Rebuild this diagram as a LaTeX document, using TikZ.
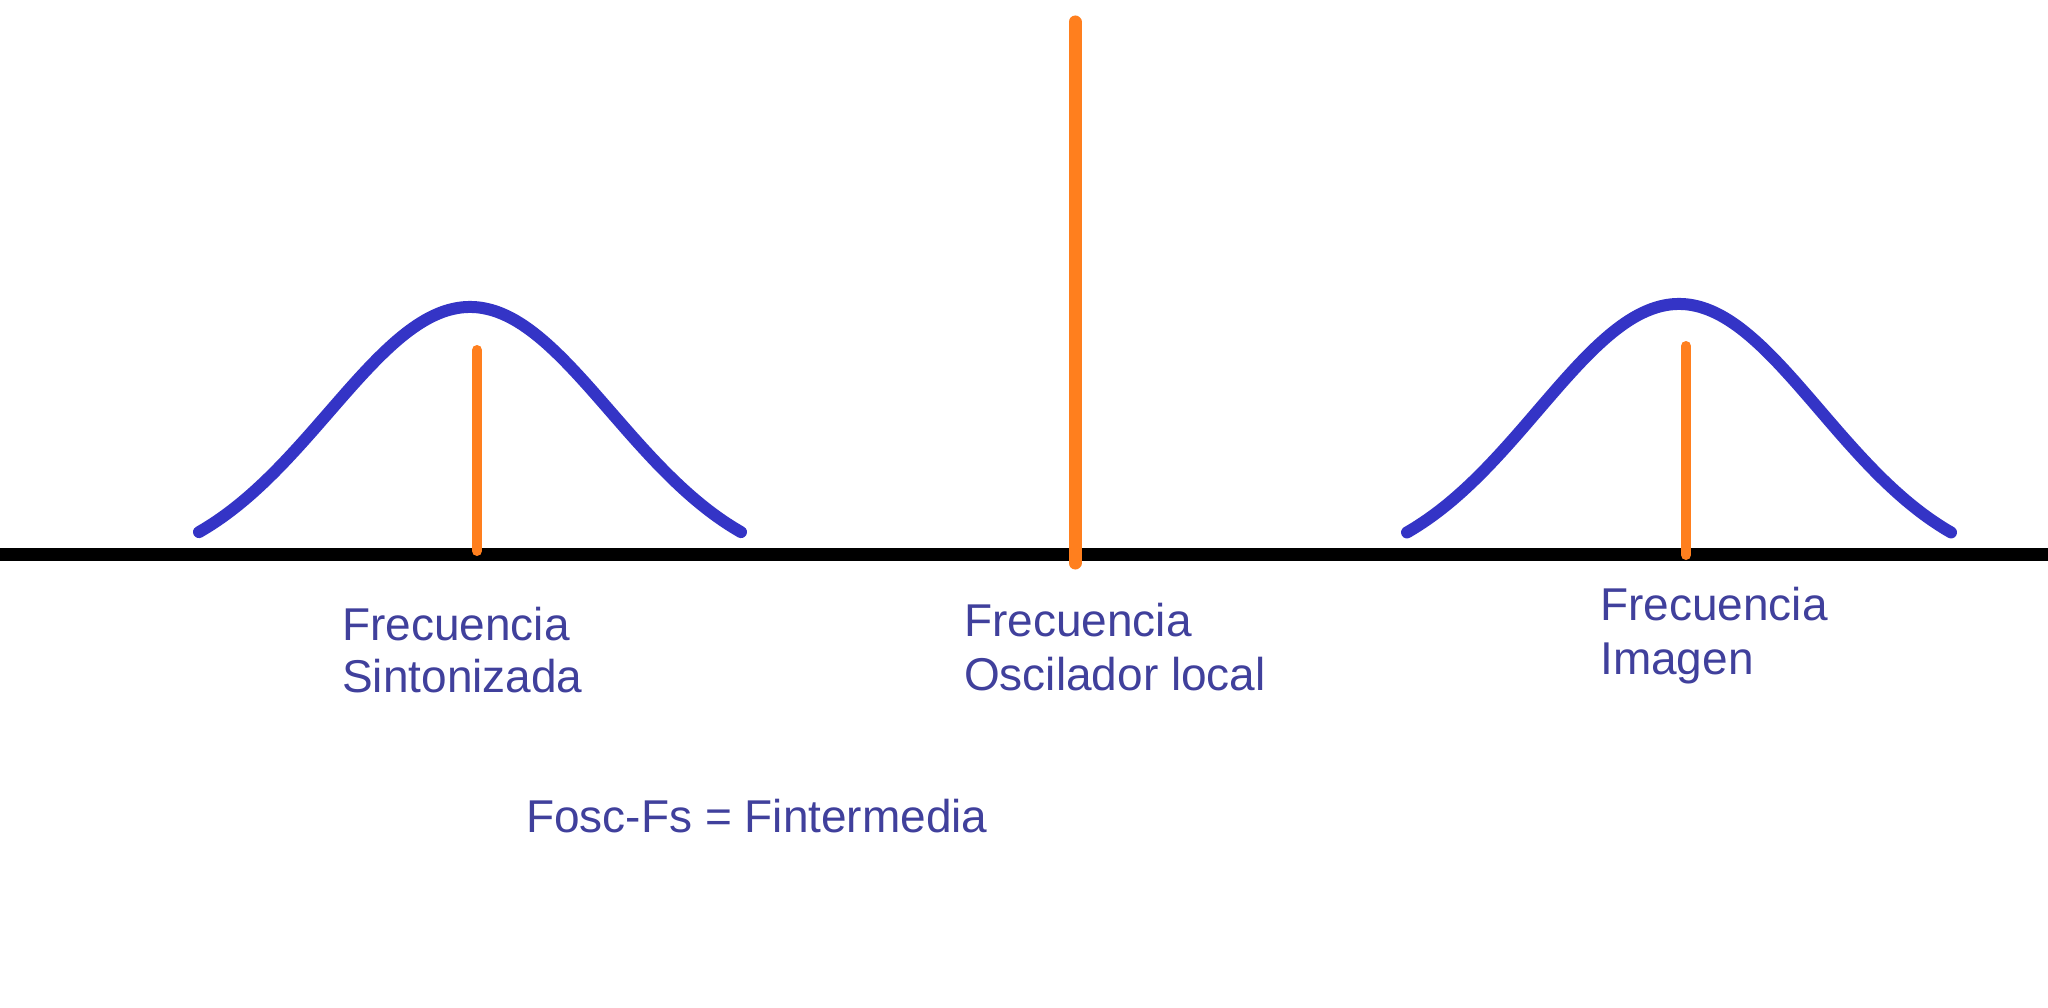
\documentclass[tikz,border=0pt]{standalone}
\usepackage{fontspec}
\setmainfont{Liberation Sans}
\definecolor{bellblue}{HTML}{3434C6}
\definecolor{txtblue}{HTML}{40409C}
\definecolor{peakorange}{HTML}{FF7F1E}
\tikzset{
  axisline/.style={draw=black, line width=13pt},
  bell/.style={draw=bellblue, line width=12pt, line cap=round, line join=round},
  peakline/.style={draw=peakorange, line width=10pt, line cap=round},
  lbl/.style={text=txtblue, font=\fontsize{46}{52}\selectfont, anchor=base west, inner sep=0pt}
}
\begin{document}
\begin{tikzpicture}[x=1pt, y=-1pt]
\useasboundingbox[fill=white] (0,0) rectangle (2048,1008);
% axis
\coordinate (axL) at (0,554);
\coordinate (axR) at (2048,554);
\draw[axisline] (axL) -- (axR);
% bells
\draw[bell] plot[domain=199:741, samples=90, smooth] (\x, {554-247*(1.082*exp(-0.5*((\x-470)/141)^2)-0.082)});
\draw[bell] plot[domain=1407:1951, samples=90, smooth] (\x, {554-250*(1.082*exp(-0.5*((\x-1679)/141)^2)-0.082)});
% orange peaks
\coordinate (sT) at (477,350);
\coordinate (sB) at (477,551);
\coordinate (oT) at (1075,22);
\coordinate (oB) at (1075,563);
\coordinate (iT) at (1686,346);
\coordinate (iB) at (1686,555);
\draw[peakline] (sB) -- (sT);
\draw[peakline, line width=13pt] (oB) -- (oT);
\draw[peakline] (iB) -- (iT);
% labels
\node[lbl] (s1) at (342,640) {Frecuencia};
\node[lbl] (s2) at (342,692) {Sintonizada};
\node[lbl] (o1) at (964,636) {Frecuencia};
\node[lbl] (o2) at (964,690) {Oscilador local};
\node[lbl] (i1) at (1600,620) {Frecuencia};
\node[lbl] (i2) at (1600,674) {Imagen};
\node[lbl] (eq) at (526,832) {Fosc-Fs = Fintermedia};
\end{tikzpicture}
\end{document}
